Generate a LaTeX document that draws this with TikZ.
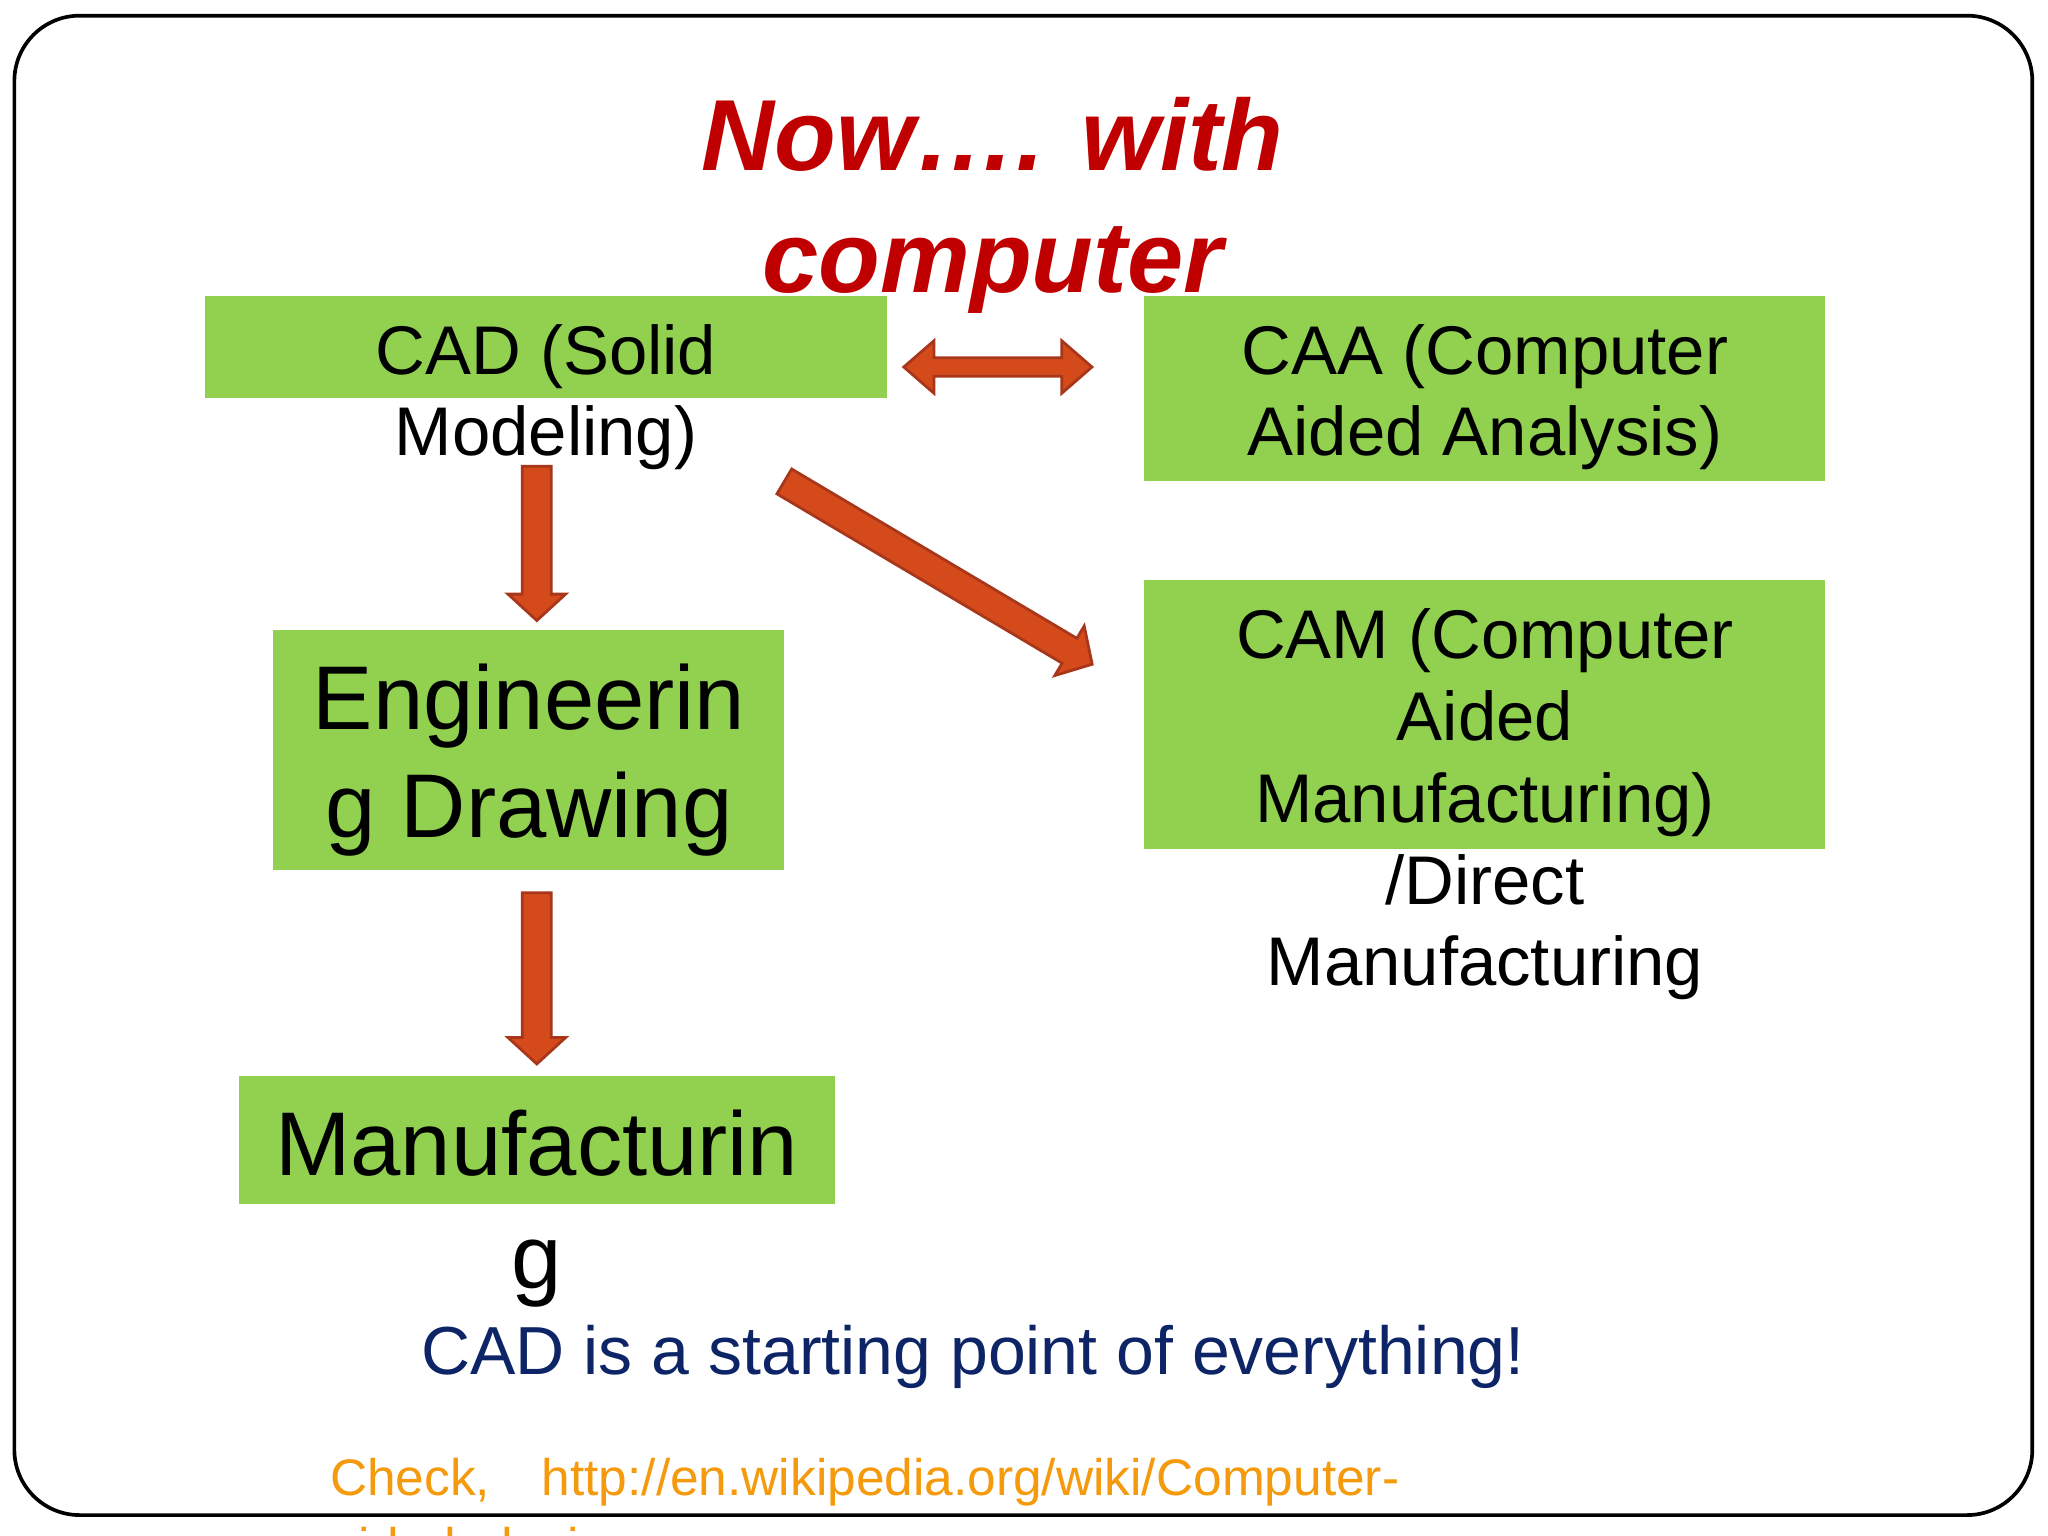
\documentclass[tikz,border=0pt]{standalone}
\usepackage{fontspec}
\setmainfont{Liberation Sans}
\usetikzlibrary{shapes.arrows}
\definecolor{grn}{HTML}{92D050}
\definecolor{arr}{HTML}{D44A1A}
\definecolor{arrb}{HTML}{A8361A}
\definecolor{ttl}{HTML}{C00000}
\definecolor{nav}{HTML}{0D2566}
\definecolor{org}{HTML}{F59A0C}
\begin{document}
\begin{tikzpicture}[x=0.01cm,y=-0.01cm,
  box/.style={fill=grn,draw=none,inner sep=0,outer sep=0},
  txt/.style={align=center,inner sep=0,text=black},
  sarr/.style={single arrow,fill=arr,draw=arrb,line width=0.6pt,inner sep=0.1cm,single arrow head extend=0.11cm,single arrow tip angle=95,minimum width=0.42cm},
  darr/.style={double arrow,fill=arr,draw=arrb,line width=0.6pt,inner sep=0.06cm,double arrow head extend=0.13cm,double arrow tip angle=82,minimum width=0.38cm}]
\useasboundingbox (0,0) rectangle (1568,1176);
\fill[white] (0,0) rectangle (1568,1176);
\begin{scope}
\clip (0,0) rectangle (1568,1176);
\draw[black,line width=0.8pt,rounded corners=0.5cm] (11,12) rectangle (1556,1160);
% boxes
\path[box] (157,227) rectangle (679,305) coordinate (cadbox);
\path[box] (876,227) rectangle (1397,368) coordinate (caabox);
\path[box] (209,482) rectangle (600,666) coordinate (engbox);
\path[box] (876,444) rectangle (1397,650) coordinate (cambox);
\path[box] (183,824) rectangle (639,922) coordinate (manbox);
% title
\node[align=center,inner sep=0,text=ttl,font=\fontsize{22pt}{26.6pt}\selectfont\bfseries\itshape] (title) at (760,157) {Now…. with\\computer};
% texts
\node[txt,font=\fontsize{15pt}{17.6pt}\selectfont] (cad) at (418,304) {CAD (Solid\\Modeling)};
\node[txt,font=\fontsize{15pt}{17.6pt}\selectfont] (caa) at (1137,304) {CAA (Computer\\Aided Analysis)};
\node[txt,font=\fontsize{19.7pt}{23.5pt}\selectfont] (eng) at (405,582) {Engineerin\\g Drawing};
\node[txt,font=\fontsize{15pt}{17.8pt}\selectfont] (cam) at (1137,616) {CAM (Computer\\Aided\\Manufacturing)\\/Direct\\Manufacturing};
\node[txt,font=\fontsize{19.7pt}{24.6pt}\selectfont] (man) at (411,925) {Manufacturin\\g};
\node[inner sep=0,text=nav,font=\fontsize{14.8pt}{18pt}\selectfont] (note) at (745,1039) {CAD is a starting point of everything!};
\node[anchor=north west,align=left,inner sep=0,text=org,font=\fontsize{11.2pt}{15pt}\selectfont] (check) at (252,1116) {Check,\quad http://en.wikipedia.org/wiki/Computer-\\aided\_design};
% arrows
\node[darr,minimum height=1.44cm] (a1) at (764,281) {};
\node[sarr,minimum height=1.18cm,rotate=-90] (a2) at (411,411) {};
\node[sarr,minimum height=1.31cm,rotate=-90] (a3) at (411,744) {};
\node[sarr,minimum height=2.74cm,rotate=-30.7] (a4) at (714,436) {};
\end{scope}
\end{tikzpicture}
\end{document}
